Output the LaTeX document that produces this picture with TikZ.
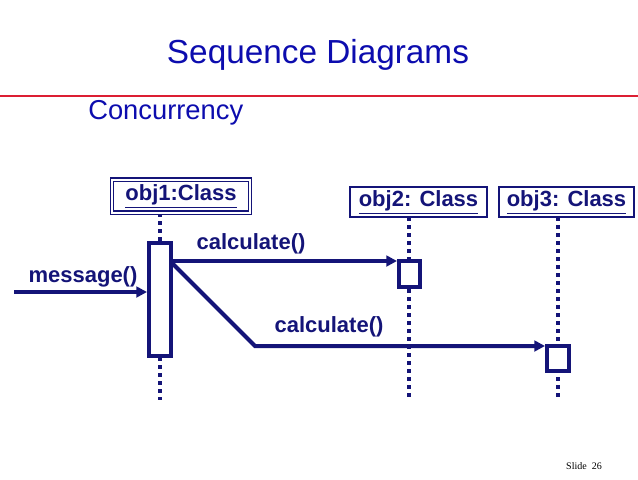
\documentclass[tikz,border=0pt]{standalone}
\usepackage{fontspec}
\setmainfont{Liberation Sans}
\newfontfamily\serifm{Liberation Serif}
\usetikzlibrary{arrows.meta}
\definecolor{navy}{RGB}{20,20,120}
\definecolor{redl}{RGB}{220,30,50}
\begin{document}
\begin{tikzpicture}[x=0.75pt,y=-0.75pt,
  lbl/.style={text=navy,font=\fontsize{16.5}{17}\selectfont\bfseries,inner sep=0pt},
  obj/.style={draw=navy,line width=2pt,fill=white,text=navy,font=\fontsize{16.5}{17}\selectfont\bfseries,inner sep=0pt},
  act/.style={draw=navy,line width=3pt,fill=white},
  life/.style={draw=navy,line width=3pt,dash pattern=on 3pt off 3pt},
  msg/.style={draw=navy,line width=3pt,-{Triangle[length=8pt,width=8pt]}}]
\useasboundingbox (0,0) rectangle (638,479);
\node[font=\fontsize{25}{27}\selectfont,text=navy!60!blue] (title) at (318,55) {Sequence Diagrams};
\draw[redl,line width=2.2pt] (0,96) -- (638,96);
\node[anchor=west,font=\fontsize{20.5}{22}\selectfont,text=navy!60!blue,inner sep=0pt] (sub) at (88,113) {Concurrency};
% lifelines
\draw[life] (160,213) -- (160,400);
\draw[life] (409,217) -- (409,398);
\draw[life] (558,217) -- (558,398);
% object boxes
\node[obj,minimum width=138*0.75pt,minimum height=33*0.75pt,double,double distance=1.5pt,line width=1pt] (o1) at (181,196) {\underline{obj1:Class}};
\node[obj,minimum width=137*0.75pt,minimum height=30*0.75pt] (o2) at (418.5,202) {\underline{obj2: Class}};
\node[obj,minimum width=135*0.75pt,minimum height=30*0.75pt] (o3) at (566.5,202) {\underline{obj3: Class}};
% activations
\node[act,minimum width=22*0.75pt,minimum height=113*0.75pt,inner sep=0pt] (a1) at (160,299.5) {};
\node[act,minimum width=21*0.75pt,minimum height=26*0.75pt,inner sep=0pt] (a2) at (409.5,274) {};
\node[act,minimum width=22*0.75pt,minimum height=25*0.75pt,inner sep=0pt] (a3) at (558,358.5) {};
% messages
\coordinate (m0) at (14,292);
\draw[msg] (m0) -- (m0 -| a1.west);
\node[lbl] (lm) at (83,277) {message()};
\coordinate (c1) at (171,261);
\draw[msg] (c1) -- (c1 -| a2.west);
\node[lbl] (l1) at (251,244) {calculate()};
\coordinate (c2) at (171,262);
\coordinate (k2) at (255,346);
\draw[msg,line join=miter] (c2) -- (k2) -- (k2 -| a3.west);
\node[lbl] (l2) at (329,327) {calculate()};
\node[font=\serifm\fontsize{7.5}{8}\selectfont] (sl) at (584,466) {Slide\ \ 26};
\end{tikzpicture}
\end{document}
